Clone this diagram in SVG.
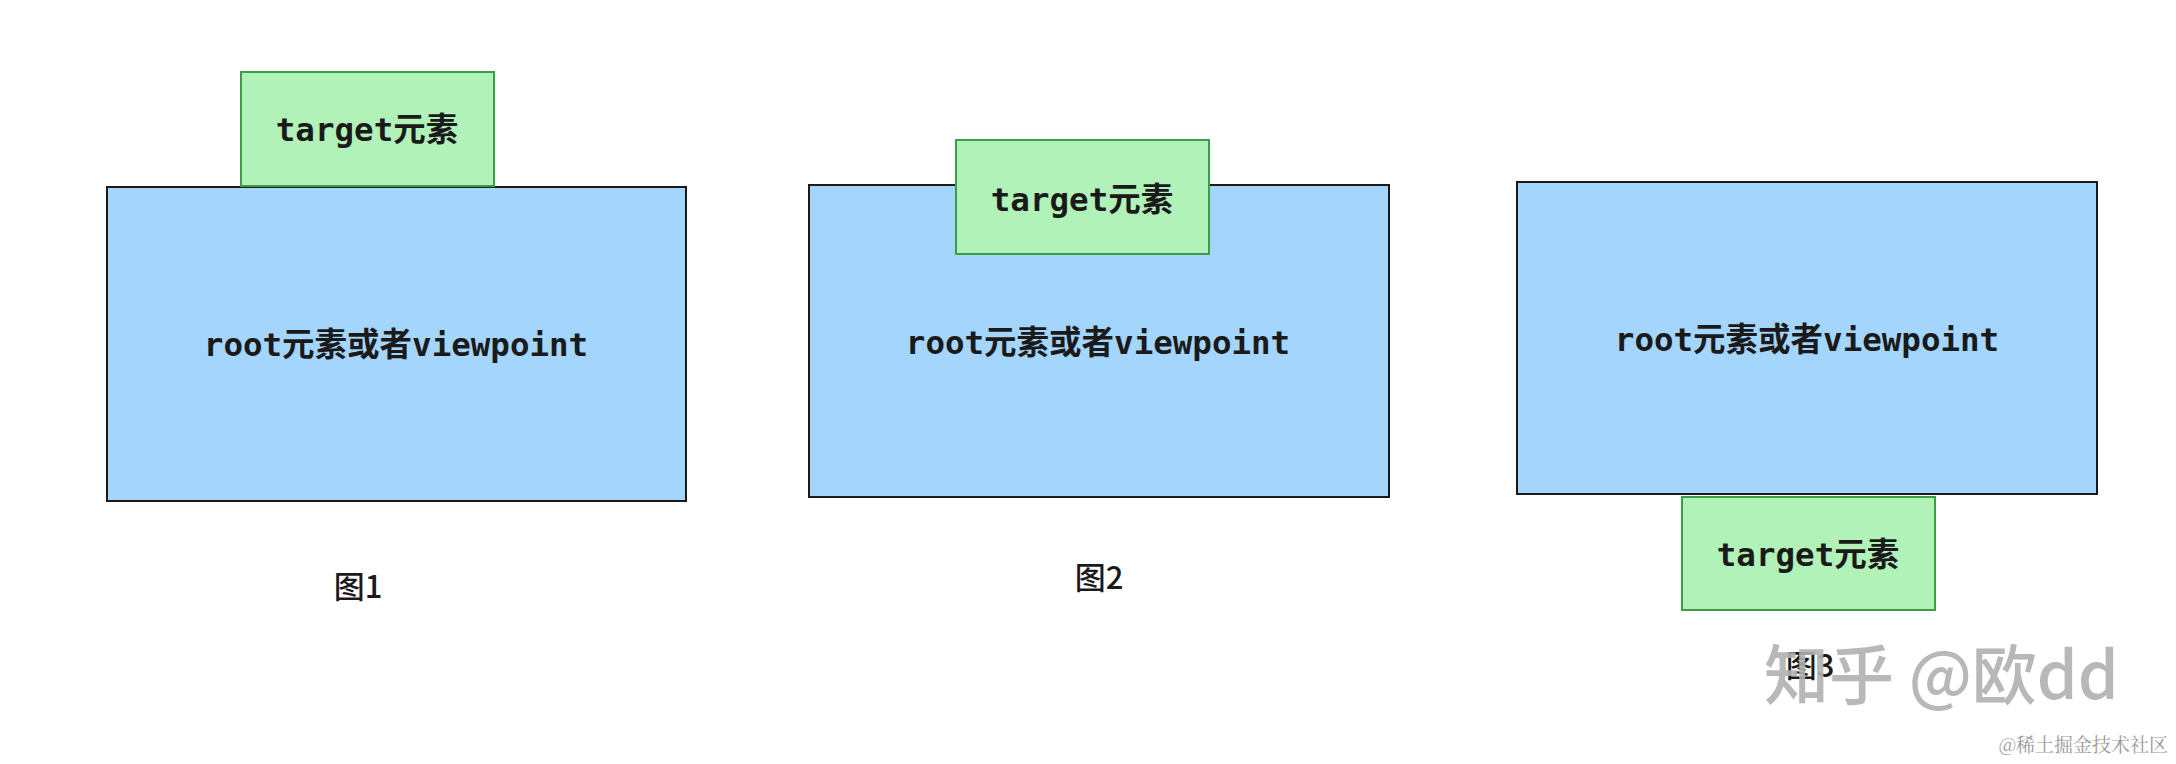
<svg xmlns="http://www.w3.org/2000/svg" width="2176" height="764" viewBox="0 0 2176 764">
<style>
.root{fill:#a4d5fd;stroke:#1a1a1a;stroke-width:2}
.tgt{fill:#b0f2b8;stroke:#3c9c48;stroke-width:2}
.lbl{font-family:"DejaVu Sans Mono","Noto Sans CJK SC",monospace;font-weight:bold;font-size:32.5px;fill:#1a1a1a;text-anchor:middle;dominant-baseline:central}
.cap{font-family:"Noto Sans CJK SC","Noto Sans",sans-serif;font-weight:500;font-size:31px;fill:#1a1a1a;text-anchor:middle;dominant-baseline:central}
.wm{font-family:"Noto Sans CJK SC","Noto Sans",sans-serif;font-weight:500;font-size:65px;fill:#b0b0b0;fill-opacity:0.9}
.wm2{font-family:"Noto Serif CJK SC","Noto Sans CJK SC",serif;font-size:19px;fill:#999999}
</style>
<rect width="2176" height="764" fill="#ffffff"/>
<g id="fig1">
  <g id="root1"><rect class="root" x="107" y="187" width="579" height="314"/><text class="lbl" x="396" y="345">root元素或者viewpoint</text></g>
  <g id="target1"><rect class="tgt" x="241" y="72" width="253" height="114"/><text class="lbl" x="367" y="130">target元素</text></g>
  <text class="cap" x="358" y="584">图1</text>
</g>
<g id="fig2">
  <g id="root2"><rect class="root" x="809" y="185" width="580" height="312"/><text class="lbl" x="1098" y="343">root元素或者viewpoint</text></g>
  <g id="target2"><rect class="tgt" x="956" y="140" width="253" height="114"/><text class="lbl" x="1082" y="200">target元素</text></g>
  <text class="cap" x="1099" y="575">图2</text>
</g>
<g id="fig3">
  <g id="root3"><rect class="root" x="1517" y="182" width="580" height="312"/><text class="lbl" x="1807" y="340">root元素或者viewpoint</text></g>
  <g id="target3"><rect class="tgt" x="1682" y="497" width="253" height="113"/><text class="lbl" x="1808" y="555">target元素</text></g>
  <text class="cap" x="1810" y="663">图3</text>
</g>
<g id="connectors"></g>
<text class="wm" x="1764" y="699">知乎 @欧dd</text>
<text class="wm2" x="2168" y="752" text-anchor="end">@稀土掘金技术社区</text>
</svg>
